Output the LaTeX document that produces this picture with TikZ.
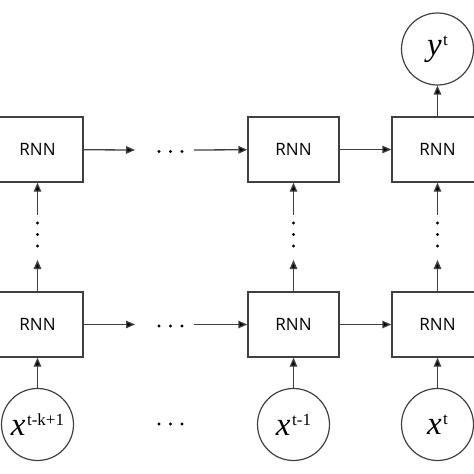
\documentclass[tikz,border=0pt]{standalone}
\usepackage{fontspec}
\setmainfont{Liberation Serif}
\newfontfamily\rnnfont{Open Sans}
\usetikzlibrary{arrows.meta}
\tikzset{
  rnn/.style={draw=black!75, line width=1.3pt, minimum width=91pt, minimum height=65pt, inner sep=0pt, font=\rnnfont\fontsize{17}{17}\selectfont},
  var/.style={circle, draw=black!75, line width=1.2pt, minimum size=72pt, inner sep=0pt},
  conn/.style={draw=black!75, line width=1.3pt, -{Triangle[length=9pt,width=7.5pt,fill=black]}},
  dotmark/.style={fill=black, draw=none, circle, inner sep=0pt, minimum size=3.3pt},
}
\newcommand{\bigvar}[2]{{\fontsize{33}{33}\selectfont\itshape #1}\kern1.5pt\raisebox{10pt}{\fontsize{17}{17}\selectfont #2}}
\begin{document}
\begin{tikzpicture}[x=1pt, y=-1pt]
\clip (0,0) rectangle (474,474);
\useasboundingbox (0,0) rectangle (474,474);
% boxes
\node[rnn] (t1) at (37.5,149.5) {RNN};
\node[rnn] (t2) at (293.5,149.5) {RNN};
\node[rnn] (t3) at (437.5,149.5) {RNN};
\node[rnn] (b1) at (37.5,324.5) {RNN};
\node[rnn] (b2) at (293.5,324.5) {RNN};
\node[rnn] (b3) at (437.5,324.5) {RNN};
% circles
\node[var] (x1) at (37.5,424.5) {\bigvar{x}{t-k+1}};
\node[var] (x2) at (293.5,424.5) {\bigvar{x}{t-1}};
\node[var] (x3) at (437.5,424.5) {\bigvar{x}{t}};
\node[var] (y) at (437.5,49) {\bigvar{y}{t}};
% inputs
\draw[conn] (x1) -- (b1);
\draw[conn] (x2) -- (b2);
\draw[conn] (x3) -- (b3);
\draw[conn] (t3) -- (y);
% vertical partial arrows
\foreach \c/\xx in {1/37.5,2/293.5,3/437.5}{
  \coordinate (up\c) at (\xx,260);
  \coordinate (lo\c) at (\xx,215);
  \draw[conn] (b\c) -- (up\c);
  \draw[conn] (lo\c) -- (t\c);
  \node[dotmark] (vd\c a) at (\xx,223) {};
  \node[dotmark] (vd\c b) at (\xx,234.5) {};
  \node[dotmark] (vd\c c) at (\xx,246) {};
}
% horizontal arrows
\foreach \r/\yy in {t/150,b/324.5}{
  \coordinate (\r hA) at (135,\yy);
  \coordinate (\r hB) at (194,\yy);
  \draw[conn] (\r1) -- (\r hA);
  \draw[conn] (\r hB) -- (\r2);
  \draw[conn] (\r2) -- (\r3);
  \node[dotmark] (\r hd1) at (159,\yy+1.5) {};
  \node[dotmark] (\r hd2) at (170.5,\yy+1.5) {};
  \node[dotmark] (\r hd3) at (182,\yy+1.5) {};
}
% dots between input circles
\node[dotmark] (xd1) at (159,424) {};
\node[dotmark] (xd2) at (170.5,424) {};
\node[dotmark] (xd3) at (182,424) {};
\end{tikzpicture}
\end{document}
